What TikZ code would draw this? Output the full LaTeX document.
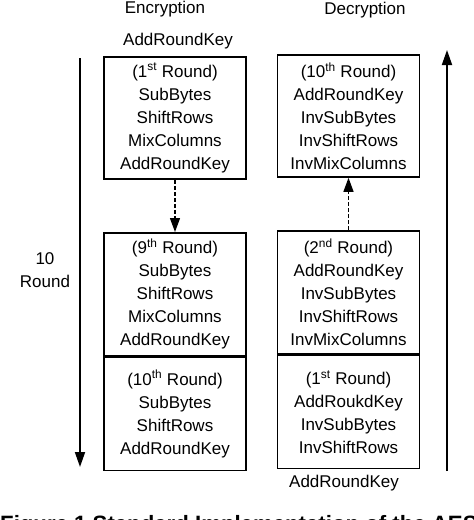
\documentclass[tikz,border=0pt]{standalone}
\usepackage{fontspec}
\setmainfont{Liberation Sans}
\usetikzlibrary{arrows.meta}
\usetikzlibrary{calc}
\usetikzlibrary{positioning}

\tikzset{
  roundbox/.style={draw, line width=1.6pt, minimum width=142pt, inner sep=0pt, align=center, font=\fontsize{17}{23}\selectfont},
  plainlabel/.style={inner sep=0pt, align=center, font=\fontsize{17}{23}\selectfont},
  longarrow/.style={line width=1.8pt, -{Triangle[length=15pt,width=10pt]}},
  dasharrow/.style={line width=1.3pt, dashed, dash pattern=on 4pt off 2pt, -{Triangle[length=14pt,width=10pt]}}
}

\begin{document}
\begin{tikzpicture}[x=1pt,y=-1pt]
        \useasboundingbox (0,0) rectangle (474,520);
        \newcommand{\figaesencx}{175}
        \newcommand{\figaesdecx}{348.5}
        \newcommand{\figaesboxwidth}{142}
        \newcommand{\figaesboxaheight}{122}
        \newcommand{\figaesboxbheight}{123}
        \newcommand{\figaesboxcheight}{113}
        % titles
        \node[plainlabel] (enctitle) at (165,9) {Encryption};
        \node[plainlabel] (dectitle) at (365,10) {Decryption};
        \node[plainlabel] (enckeyin) at (178,41) {AddRoundKey};
        % encryption boxes
        \node[roundbox, minimum height=\figaesboxaheight pt] (encone) at (\figaesencx,118) {(1\textsuperscript{st} Round)\\SubBytes\\ShiftRows\\MixColumns\\AddRoundKey};
        \node[roundbox, minimum height=\figaesboxbheight pt, anchor=north] (encnine) at (\figaesencx,232) {(9\textsuperscript{th} Round)\\SubBytes\\ShiftRows\\MixColumns\\AddRoundKey};
        \node[roundbox, minimum height=\figaesboxcheight pt, anchor=north] (encten) at (encnine.south) {(10\textsuperscript{th} Round)\\SubBytes\\ShiftRows\\AddRoundKey};
        % decryption boxes
        \node[roundbox, minimum height=\figaesboxaheight pt] (decten) at (\figaesdecx,116) {(10\textsuperscript{th} Round)\\AddRoundKey\\InvSubBytes\\InvShiftRows\\InvMixColumns};
        \node[roundbox, minimum height=\figaesboxbheight pt, anchor=north] (dectwo) at (\figaesdecx,230) {(2\textsuperscript{nd} Round)\\AddRoundKey\\InvSubBytes\\InvShiftRows\\InvMixColumns};
        \node[roundbox, minimum height=\figaesboxcheight pt, anchor=north] (decone) at (dectwo.south) {(1\textsuperscript{st} Round)\\AddRoukdKey\\InvSubBytes\\InvShiftRows};
        \node[plainlabel] (deckeyout) at (344,483) {AddRoundKey};
        % round arrows
        \node[plainlabel] (roundcount) at (45,270) {10\\Round};
        \coordinate (encstart) at (80,58);
        \coordinate (encend) at (80,467);
        \coordinate (decstart) at (447,471);
        \coordinate (decend) at (447,50);
        \draw[longarrow] (encstart) -- (encend);
        \draw[longarrow] (decstart) -- (decend);
        \draw[dasharrow] (encone.south) -- (encnine.north);
        \draw[dasharrow] (dectwo.north) -- (decten.south);
        % caption, cut off at the bottom edge
        \node[inner sep=0pt, anchor=base west, font=\fontsize{22.2}{26}\selectfont\bfseries] (caption) at (0,531) {Figure 1 Standard Implementation of the AES};
\end{tikzpicture}
\end{document}
